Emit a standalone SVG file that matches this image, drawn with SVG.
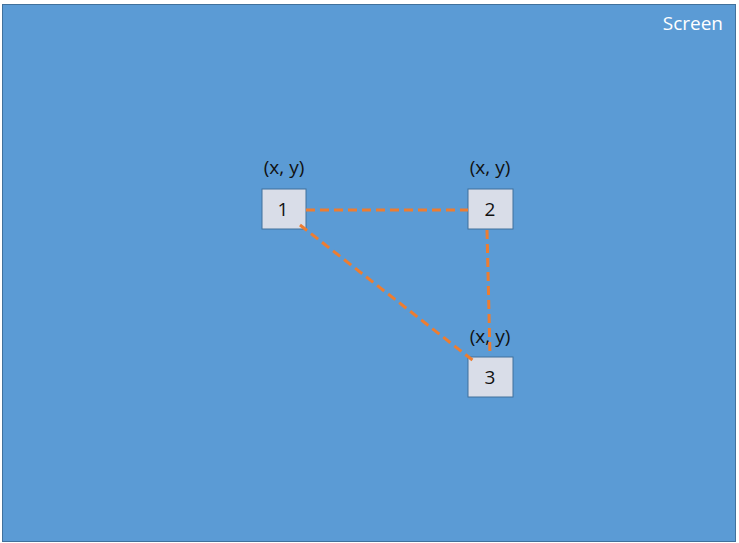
<svg xmlns="http://www.w3.org/2000/svg" width="739" height="543" viewBox="0 0 739 543">
<style>
.t{font-family:"Open Sans","Liberation Sans",sans-serif;font-size:19px;fill:#111;text-anchor:middle}
.b{fill:#d9dde8;stroke:#41719c;stroke-width:1}
.c{stroke:#ed7d31;stroke-width:3;stroke-dasharray:9 5;fill:none}
</style>
<g id="screen"><rect x="2.5" y="4.5" width="733" height="537" fill="#5b9bd5" stroke="#41719c"/>
<text x="723" y="30" style="font-family:'Open Sans','Liberation Sans',sans-serif;font-size:19px;fill:#fff;text-anchor:end">Screen</text></g>
<g id="n1"><rect class="b" x="262" y="189" width="44" height="40"/><text class="t" x="283" y="216">1</text><text class="t" x="284" y="174">(x, y)</text></g>
<g id="n2"><rect class="b" x="468" y="189" width="45" height="40"/><text class="t" x="490" y="216">2</text><text class="t" x="490" y="174">(x, y)</text></g>
<g id="n3"><rect class="b" x="468" y="357" width="45" height="40"/><text class="t" x="490" y="384">3</text><text class="t" x="490" y="343">(x, y)</text></g>
<g id="connectors">
<line class="c" x1="306" y1="210" x2="468" y2="210"/>
<line class="c" x1="487" y1="230" x2="490" y2="356"/>
<line class="c" x1="300" y1="225" x2="475" y2="362"/>
</g>
</svg>
